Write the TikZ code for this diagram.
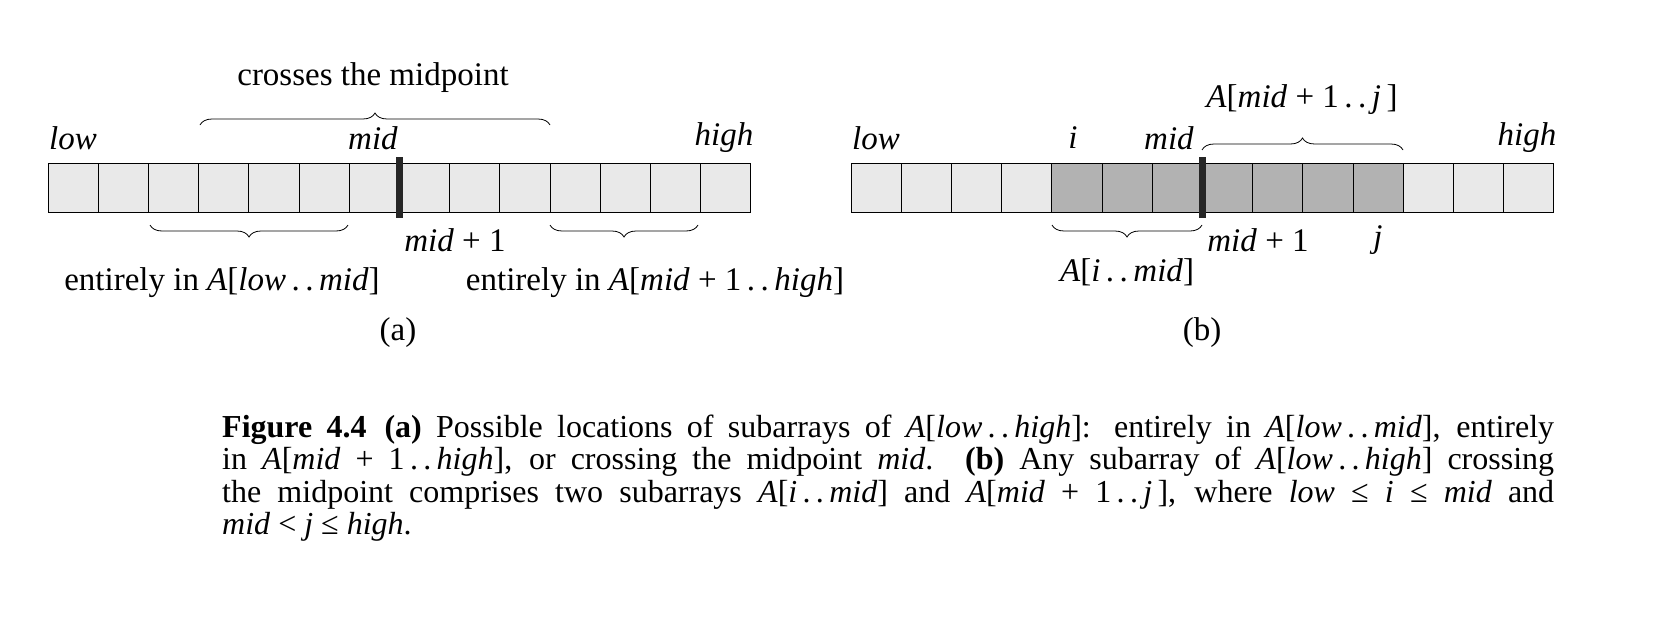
\documentclass[tikz,border=0pt]{standalone}
\usepackage{fontspec}
\setmainfont{Liberation Serif}
\usetikzlibrary{decorations.pathreplacing}
\newcommand\lw{\textit{low}}
\newcommand\hg{\textit{high}}
\newcommand\md{\textit{mid}}
\newcommand\dd{\,.\,.\,}
\begin{document}
\begin{tikzpicture}[x=1pt,y=-1pt,
  lbl/.style={font=\fontsize{33}{36}\selectfont, inner sep=0pt},
  cell/.style={draw=black, line width=0.8pt, fill=gray!17},
  dcell/.style={draw=black, line width=0.8pt, fill=gray!60},
  brc/.style={decorate, decoration={brace, amplitude=12pt}, line width=0.8pt},
  brcm/.style={decorate, decoration={brace, mirror, amplitude=12pt}, line width=0.8pt},
  thick bar/.style={line width=7pt, black!85}]
\useasboundingbox (0,0) rectangle (1675,616);
% (a)
\foreach \k in {0,...,13} {\draw[cell] ({48+\k*50.2},163) rectangle ({48+(\k+1)*50.2},212);}
\coordinate (amt) at (399,157); \coordinate (amb) at (399,218);
\draw[thick bar] (amt) -- (amb);
\node[lbl] (alow) at (73,138) {\lw};
\node[lbl] (amid) at (373,138) {\md};
\node[lbl] (ahigh) at (724,138) {\hg};
\coordinate (b1l) at (200,125); \coordinate (b1r) at (550,125);
\draw[brc] (b1l) -- (b1r);
\node[lbl] (cross) at (373,78) {crosses the midpoint};
\coordinate (b2l) at (150,225); \coordinate (b2r) at (348,225);
\draw[brcm] (b2l) -- (b2r);
\coordinate (b3l) at (550,225); \coordinate (b3r) at (698,225);
\draw[brcm] (b3l) -- (b3r);
\node[lbl] (amp1) at (455,240) {\md\ + 1};
\node[lbl] (ent1) at (222,283) {entirely in \textit{A}[\lw\dd\md]};
\node[lbl] (ent2) at (655,283) {entirely in \textit{A}[\md\ + 1\dd\hg]};
\node[lbl] (capa) at (398,333) {(a)};
% (b)
\foreach \k in {0,...,13} {
  \ifnum\k>3 \ifnum\k<11 \def\st{dcell}\else\def\st{cell}\fi \else\def\st{cell}\fi
  \draw[\st] ({851+\k*50.2},163) rectangle ({851+(\k+1)*50.2},212);}
\coordinate (bmt) at (1202,157); \coordinate (bmb) at (1202,218);
\draw[thick bar] (bmt) -- (bmb);
\node[lbl] (blow) at (876,138) {\lw};
\node[lbl] (bi) at (1073,138) {\textit{i}};
\node[lbl] (bmid) at (1169,138) {\md};
\node[lbl] (bhigh) at (1527,138) {\hg};
\coordinate (b4l) at (1202,150); \coordinate (b4r) at (1403,150);
\draw[brc] (b4l) -- (b4r);
\node[lbl] (bmj) at (1302,100) {\textit{A}[\md\ + 1\dd\textit{j}\,]};
\coordinate (b5l) at (1052,225); \coordinate (b5r) at (1202,225);
\draw[brcm] (b5l) -- (b5r);
\node[lbl] (bim) at (1127,272) {\textit{A}[\textit{i}\dd\md]};
\node[lbl] (bmp1) at (1258,240) {\md\ + 1};
\node[lbl] (bj) at (1378,240) {\textit{j}};
\node[lbl] (capb) at (1202,333) {(b)};
% caption
\begin{scope}[every node/.style={anchor=base west, inner sep=0pt, font=\fontsize{32}{32}\selectfont}]
\node (c1) at (222,437) {\makebox[1332pt][s]{\textbf{Figure 4.4}\hspace{18pt}\textbf{(a)} Possible locations of subarrays of \textit{A}[\lw\dd\hg]: entirely in \textit{A}[\lw\dd\md], entirely}};
\node (c2) at (222,469) {\makebox[1332pt][s]{in \textit{A}[\md\ + 1\dd\hg], or crossing the midpoint \md. \textbf{(b)} Any subarray of \textit{A}[\lw\dd\hg] crossing}};
\node (c3) at (222,502) {\makebox[1332pt][s]{the midpoint comprises two subarrays \textit{A}[\textit{i}\dd\md] and \textit{A}[\md\ + 1\dd\textit{j}\,], where \lw\ ≤ \textit{i} ≤ \md\ and}};
\node (c4) at (222,534) {\md\ < \textit{j} ≤ \hg.};
\end{scope}
\end{tikzpicture}
\end{document}
